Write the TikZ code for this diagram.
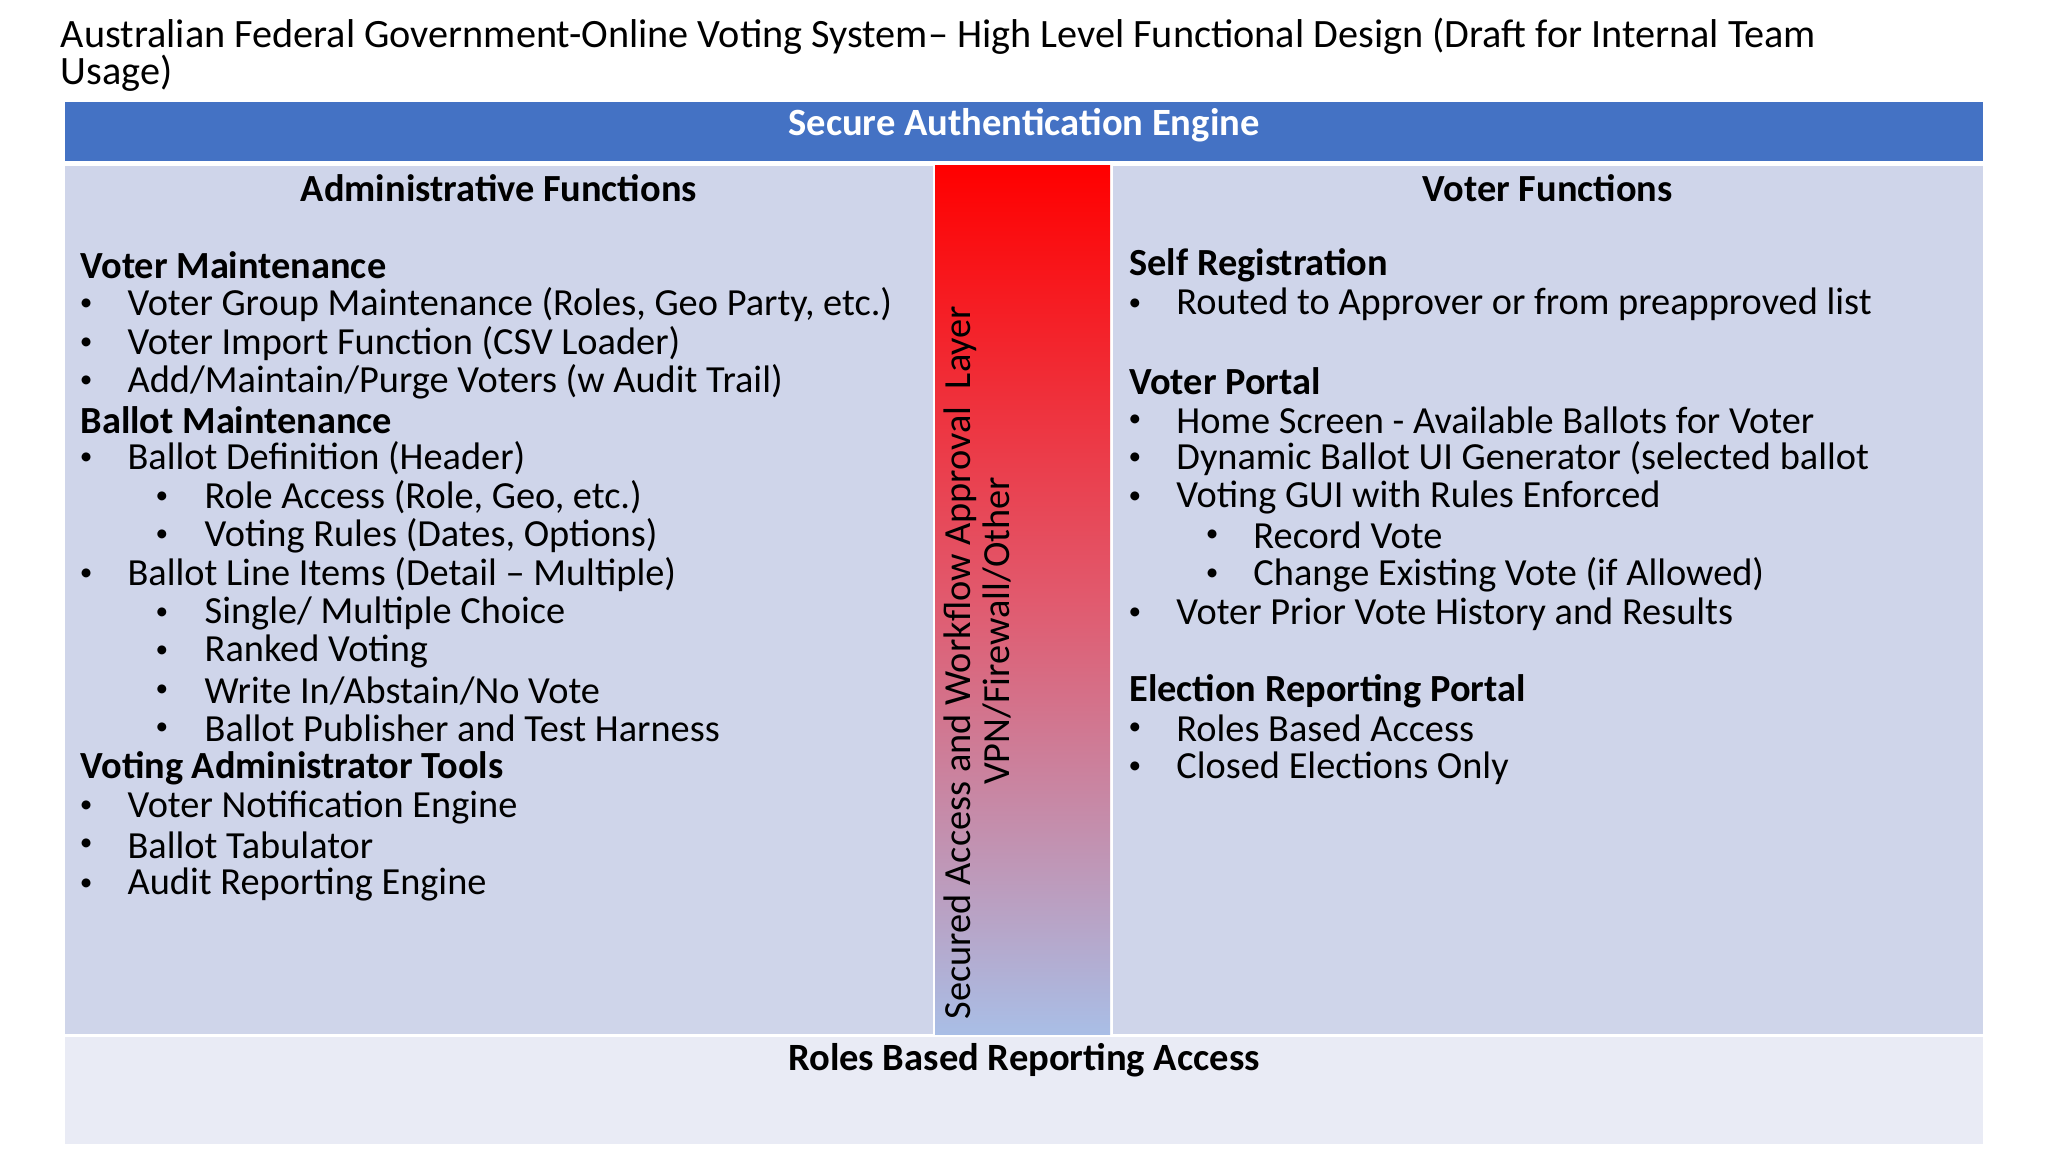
\documentclass[tikz,border=0pt]{standalone}
\usepackage{fontspec}
\setmainfont{Carlito}
\definecolor{hdr}{HTML}{4472C4}
\definecolor{pan}{HTML}{CFD5EA}
\definecolor{bot}{HTML}{E9EBF5}
\definecolor{lb}{HTML}{A9BEE6}
\begin{document}
\begin{tikzpicture}[x=0.01cm,y=-0.01cm,
  txt/.style={anchor=west,inner sep=0pt,font=\fontsize{8.35}{9}\selectfont},
  hd/.style={txt,font=\fontsize{8.35}{9}\selectfont\bfseries},
  bul/.style={anchor=center,inner sep=0pt,font=\fontsize{5.5}{6}\selectfont}]
\useasboundingbox[fill=white] (0,0) rectangle (1568,882);
\node[anchor=west,inner sep=0pt,align=left,font=\fontsize{8.76}{8.2}\selectfont] (title) at (46,42) {Australian Federal Government-Online Voting System– High Level Functional Design (Draft for Internal Team\\Usage)};
\fill[hdr] (50,78) rectangle (1518,123);
\node[font=\fontsize{8.4}{9}\selectfont\bfseries,text=white] (sae) at (784,96) {Secure Authentication Engine};
\fill[pan] (50,127) rectangle (714,792);
\fill[pan] (852,127) rectangle (1518,792);
\shade[top color=red, bottom color=lb, middle color={rgb,255:red,225;green,90;blue,110}] (716,127) rectangle (850,792);
\fill[bot] (50,794) rectangle (1518,876);
\node[font=\fontsize{8.4}{9}\selectfont\bfseries] (rbra) at (784,812) {Roles Based Reporting Access};
\node[rotate=90,anchor=west,inner sep=0pt,font=\fontsize{8.35}{9}\selectfont] (sec) at (735,781) {Secured Access and Workflow Approval\ \ Layer};
\node[rotate=90,inner sep=0pt,font=\fontsize{8.35}{9}\selectfont] (vpn) at (763,483) {VPN/Firewall/Other};
% left
\node[hd,anchor=center] (adm) at (382,144) {Administrative Functions};
\foreach \y/\t in {203/Voter Maintenance,322/Ballot Maintenance,588/Voting Administrator Tools}
  \node[hd] at (61,\y) {\t};
\foreach \y/\t in {233/{Voter Group Maintenance (Roles, Geo Party, etc.)},263/{Voter Import Function (CSV Loader)},292/{Add/Maintain/Purge Voters (w Audit Trail)},351/{Ballot Definition (Header)},440/{Ballot Line Items (Detail – Multiple)},618/{Voter Notification Engine},647/{Ballot Tabulator},677/{Audit Reporting Engine}}
  {\node[bul] at (66,\y) {•}; \node[txt] at (97,\y) {\t};}
\foreach \y/\t in {381/{Role Access (Role, Geo, etc.)},410/{Voting Rules (Dates, Options)},470/{Single/ Multiple Choice},499/{Ranked Voting},529/{Write In/Abstain/No Vote},558/{Ballot Publisher and Test Harness}}
  {\node[bul] at (124,\y) {•}; \node[txt] at (156,\y) {\t};}
% right
\node[hd,anchor=center] (vf) at (1185,144) {Voter Functions};
\foreach \y/\t in {203/Self Registration,292/Voter Portal,529/Election Reporting Portal}
  \node[hd] at (864,\y) {\t};
\foreach \y/\t in {233/{Routed to Approver or from preapproved list},322/{Home Screen - Available Ballots for Voter},351/{Dynamic Ballot UI Generator (selected ballot},381/{Voting GUI with Rules Enforced},470/{Voter Prior Vote History and Results},558/{Roles Based Access},588/{Closed Elections Only}}
  {\node[bul] at (869,\y) {•}; \node[txt] at (900,\y) {\t};}
\foreach \y/\t in {410/{Record Vote},440/{Change Existing Vote (if Allowed)}}
  {\node[bul] at (928,\y) {•}; \node[txt] at (959,\y) {\t};}
\end{tikzpicture}
\end{document}
